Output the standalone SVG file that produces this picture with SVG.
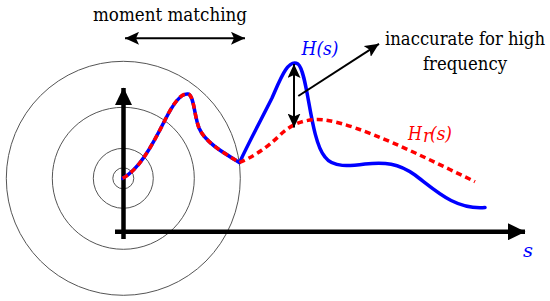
<svg xmlns="http://www.w3.org/2000/svg" width="550" height="301" viewBox="0 0 550 301">
<style>
.circ{fill:none;stroke:#555;stroke-width:1}
.axis{fill:none;stroke:#000;stroke-width:4.5}
.thin{fill:none;stroke:#000;stroke-width:2}
.blue{fill:none;stroke:#0000ff;stroke-width:3.5;stroke-linecap:round}
.red{fill:none;stroke:#ff0000;stroke-width:3.5;stroke-dasharray:6 4}
text{font-family:"DejaVu Serif Condensed","DejaVu Serif",serif;font-size:19px}
.it{font-style:italic}
</style>
<defs>
<marker id="bigHead" markerUnits="userSpaceOnUse" markerWidth="18" markerHeight="17" refX="17" refY="8.5" orient="auto">
<path d="M0,0 L17.5,8.5 L0,17 Z" fill="#000"/>
</marker>
<marker id="head" markerUnits="userSpaceOnUse" markerWidth="15" markerHeight="13" refX="14" refY="6.5" orient="auto-start-reverse">
<path d="M0,0 L14,6.5 L0,13 L3,6.5 Z" fill="#000"/>
</marker>
</defs>
<g id="circles">
<circle class="circ" cx="123.3" cy="178.3" r="10.5"/>
<circle class="circ" cx="123.3" cy="178.3" r="30"/>
<circle class="circ" cx="123.3" cy="178.3" r="71"/>
<circle class="circ" cx="123.3" cy="178.3" r="117"/>
</g>
<g id="axes">
<line class="axis" x1="123.5" y1="239" x2="123.5" y2="88" marker-end="url(#bigHead)"/>
<line class="axis" x1="115" y1="231.7" x2="525" y2="231.7" marker-end="url(#bigHead)"/>
</g>
<g id="curves">
<path id="shared-blue" class="blue" d="M122.7,178.3 C138,170 150,150 165,120 C175,100 182,93 188,94 C194,95 194,115 199,128 C205,142 222,152 239.5,162.5"/>
<path id="H" class="blue" d="M239.5,162.5 C250,140 262,118 272,98 C280,80 288,58 298,64 C308,72 310,140 325,157 C333,168 350,166 365,164 C385,162 398,163 415,175 C435,190 455,210 485,207.5"/>
<path id="shared-red" class="red" d="M122.7,178.3 C138,170 150,150 165,120 C175,100 182,93 188,94 C194,95 194,115 199,128 C205,142 222,152 239.5,162.5"/>
<path id="Hr" class="red" d="M239.5,162.5 C250,158 265,150 280,135 C293,122 310,118 325,120 C360,125 420,155 475,181.7"/>
</g>
<g id="connectors">
<line class="thin" x1="125" y1="38.3" x2="245" y2="38.3" marker-start="url(#head)" marker-end="url(#head)"/>
<line class="thin" x1="294" y1="64" x2="294" y2="127.5" marker-start="url(#head)" marker-end="url(#head)"/>
<line class="thin" x1="298.3" y1="96" x2="379" y2="43.8" marker-end="url(#head)"/>
</g>
<g id="labels">
<text x="93" y="21" textLength="154" lengthAdjust="spacingAndGlyphs">moment matching</text>
<text x="385" y="45" textLength="160" lengthAdjust="spacingAndGlyphs">inaccurate for high</text>
<text x="423" y="70" textLength="84" lengthAdjust="spacingAndGlyphs">frequency</text>
<text class="it" x="301.5" y="55" fill="#0000ff" textLength="37" lengthAdjust="spacingAndGlyphs">H(s)</text>
<text class="it" x="408" y="140" fill="#ff0000" textLength="14" lengthAdjust="spacingAndGlyphs">H</text>
<text class="it" x="423" y="142" fill="#ff0000" font-size="12">r</text>
<text class="it" x="430" y="140" fill="#ff0000" textLength="22" lengthAdjust="spacingAndGlyphs">(s)</text>
<text class="it" x="523" y="257" fill="#0000ff" font-size="21" textLength="10" lengthAdjust="spacingAndGlyphs">s</text>
</g>
</svg>
